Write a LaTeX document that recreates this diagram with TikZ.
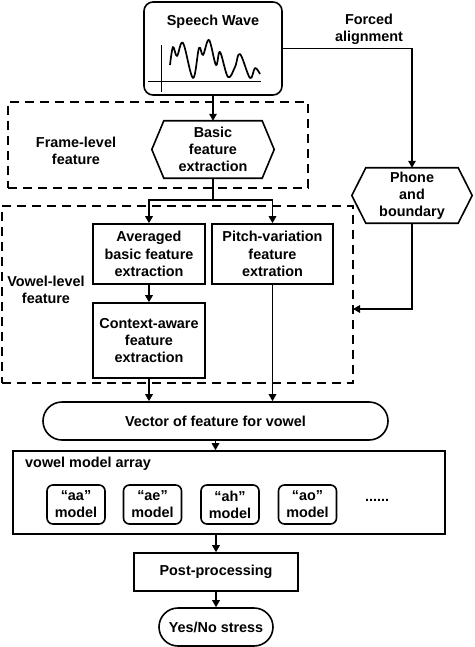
\documentclass[tikz,border=0pt]{standalone}
\usepackage{fontspec}
\setmainfont{Liberation Sans}
\usetikzlibrary{arrows.meta}
\begin{document}
\begin{tikzpicture}[x=1pt,y=-1pt,
  txt/.style={font=\fontsize{14.4}{17.2}\selectfont\bfseries, align=center, inner sep=0pt},
  box/.style={draw, line width=1.6pt, inner sep=0pt, txt},
  hexbox/.style={draw=none, inner sep=0pt, txt},
  dbox/.style={draw, line width=2pt, dash pattern=on 9pt off 6pt, inner sep=0pt},
  arr/.style={line width=1.6pt, -{Triangle[length=7pt,width=7.5pt]}},
  ln/.style={line width=1.6pt}
]
\useasboundingbox (0,0) rectangle (474,647);

% speech wave
\node[box, rounded corners=9pt, minimum width=138pt, minimum height=93pt] (sw) at (213,48.5) {};
\node[txt] (swt) at (213,22) {Speech Wave};
\draw[line width=1pt] (161,45) -- (161,92);
\draw[line width=1pt] (148,82) -- (261,82);
\draw[line width=1.7pt, line join=round] plot[smooth, tension=0.6] coordinates {
 (170,65) (173,47) (177,56) (183,43) (193,78) (199,48) (203,55) (209,40)
 (216,65) (220,52) (228,77) (235,67) (240,54) (250,78) (255,68) (260,74)};

\node[txt] (fa) at (369,29) {Forced\\alignment};

% frame-level
\node[dbox, minimum width=300pt, minimum height=86pt] (fl) at (158,145) {};
\node[txt] (flt) at (76,151) {Frame-level\\feature};
\node[hexbox, minimum width=98pt, minimum height=57pt] (bf) at (213,149.5) {Basic\\feature\\extraction};
\draw[ln, line join=miter] (bf.north west) -- (bf.north east) -- ([xshift=12pt]bf.east) -- (bf.south east) -- (bf.south west) -- ([xshift=-12pt]bf.west) -- cycle;

% phone
\node[hexbox, minimum width=92pt, minimum height=55pt] (ph) at (412,195.5) {Phone\\and\\boundary};
\draw[ln] (ph.north west) -- (ph.north east) -- ([xshift=14pt]ph.east) -- (ph.south east) -- (ph.south west) -- ([xshift=-14pt]ph.west) -- cycle;

% vowel-level
\node[dbox, minimum width=351pt, minimum height=177pt] (vl) at (177.5,294.5) {};
\node[txt] (vlt) at (46,290) {Vowel-level\\feature};
\node[box, minimum width=112pt, minimum height=60pt] (ab) at (149,254) {Averaged\\basic feature\\extraction};
\node[box, minimum width=121pt, minimum height=60pt] (pv) at (272.5,254) {Pitch-variation\\feature\\extration};
\node[box, minimum width=112pt, minimum height=75pt] (ca) at (149,340.5) {Context-aware\\feature\\extraction};

% vector
\node[box, rounded corners=19pt, minimum width=345pt, minimum height=38pt] (vec) at (215.5,421) {Vector of feature for vowel};

% array
\node[draw, line width=1.6pt, minimum width=432pt, minimum height=83pt, inner sep=0pt] (arr) at (229,492.5) {};
\node[txt, anchor=west] (arrt) at (25,464) {vowel model array};
\node[box, rounded corners=6pt, minimum width=58pt, minimum height=39pt] (maa) at (76,504.5) {“aa”\\model};
\node[box, rounded corners=6pt, minimum width=58pt, minimum height=39pt] (mae) at (152.5,504.5) {“ae”\\model};
\node[box, rounded corners=6pt, minimum width=58pt, minimum height=39pt] (mah) at (230,504.5) {“ah”\\model};
\node[box, rounded corners=6pt, minimum width=58pt, minimum height=39pt] (mao) at (307.5,504.5) {“ao”\\model};
\node[txt] (dots) at (377,500) {......};

% post
\node[box, minimum width=164pt, minimum height=38pt] (pp) at (216,572) {Post-processing};
\node[box, rounded corners=19pt, minimum width=114pt, minimum height=38pt] (yn) at (216,627) {Yes/No stress};

% connectors
\draw[arr] (sw.east) -| (ph.north);
\draw[arr] (sw.south) -- (bf.north);
\coordinate (br) at (213,200);
\draw[ln] (bf.south) -- (br);
\draw[arr] (br) -| (ab.north);
\draw[arr] (br) -| (pv.north);
\coordinate (pin) at (353,309);
\draw[arr] (ph.south) |- (pin);
\draw[arr] (ab.south) -- (ca.north);
\draw[arr] (ca.south) -- (ca.south |- vec.north);
\draw[arr] (pv.south) -- (pv.south |- vec.north);
\draw[arr] (vec.south) -- (vec.south |- arr.north);
\draw[arr] (pp.north |- arr.south) -- (pp.north);
\draw[arr] (pp.south) -- (yn.north);
\end{tikzpicture}
\end{document}
